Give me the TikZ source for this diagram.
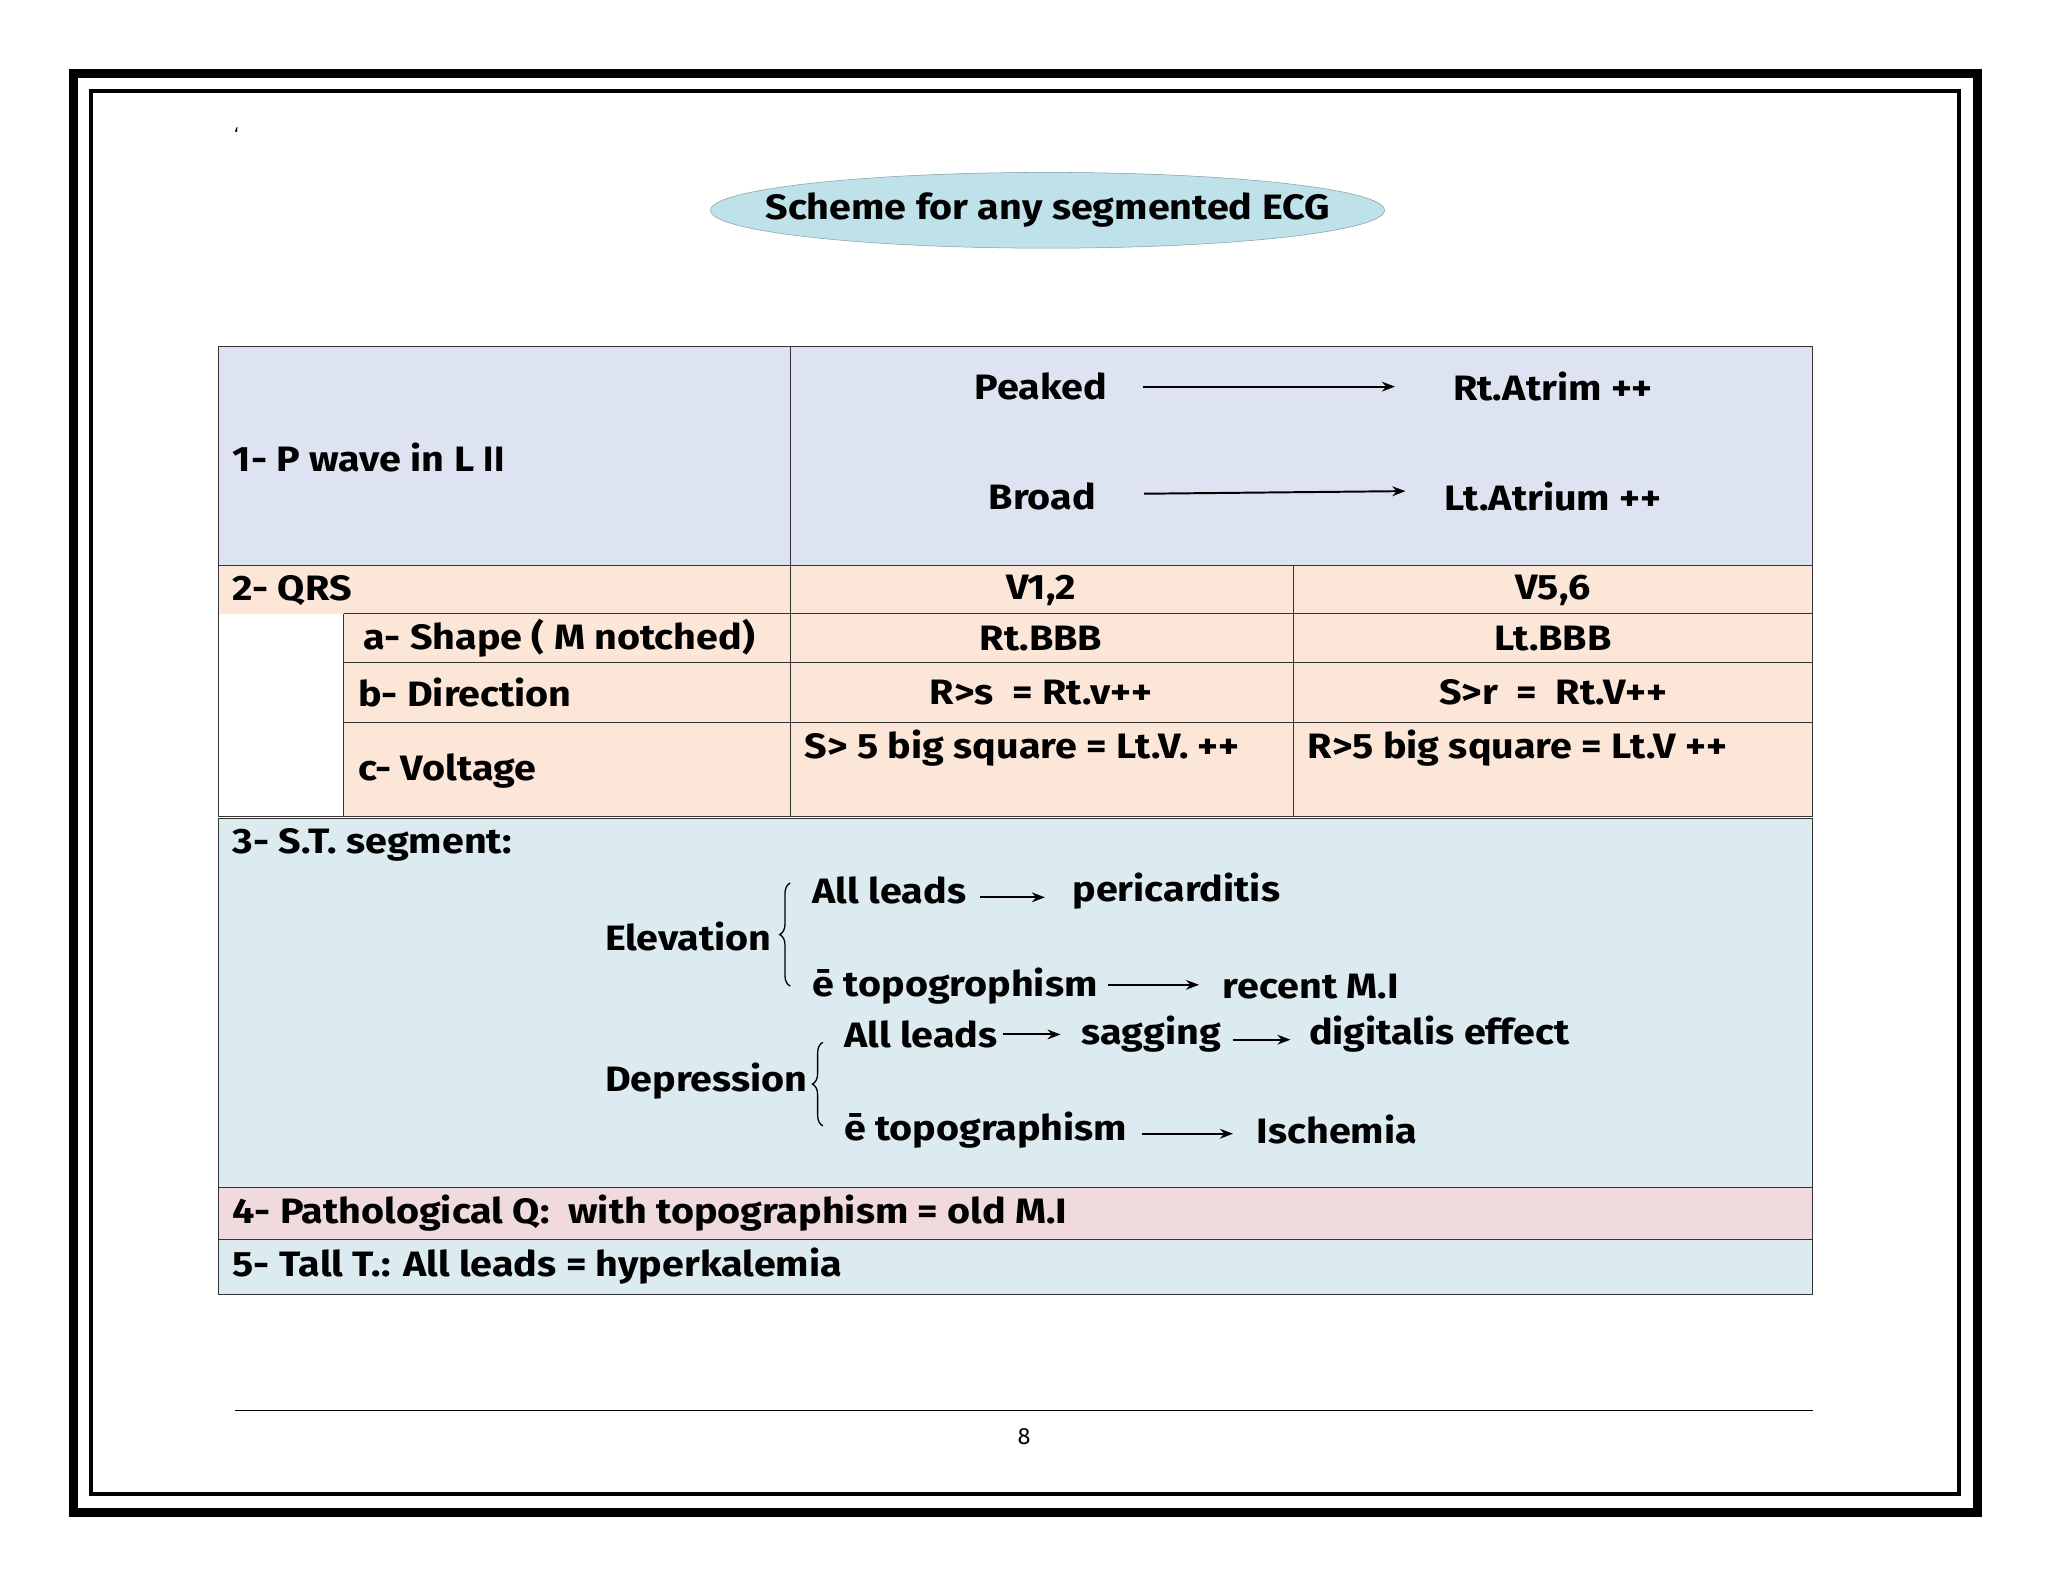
\documentclass[tikz,border=0pt]{standalone}
\usepackage{fontspec}
\setmainfont{Fira Sans}
\newfontfamily\wide[FakeStretch=1.12]{Fira Sans}
\usetikzlibrary{arrows.meta,decorations.pathreplacing,shapes.geometric}
\definecolor{pblue}{HTML}{DDE3F1}
\definecolor{peach}{HTML}{FCE6D8}
\definecolor{stblue}{HTML}{DCEBF0}
\definecolor{pink}{HTML}{F1DADE}
\definecolor{titlec}{HTML}{BFE1E9}
\tikzset{
 cell/.style={draw=black!80,line width=0.8pt},
 txt/.style={font=\wide\fontsize{27}{30}\selectfont\bfseries,inner sep=0pt},
 arr/.style={-{Stealth[length=10pt]},line width=1.5pt},
 brace/.style={decorate,decoration={brace,amplitude=8pt},line width=1pt}
}
\begin{document}
\begin{tikzpicture}[x=1pt,y=-1pt]
\useasboundingbox (0,0) rectangle (1568,1211);
\fill[white] (0,0) rectangle (1568,1211);
\draw[line width=7pt] (56,56) rectangle (1514,1158);
\draw[line width=3pt] (70,70) rectangle (1500,1144);
\node[inner sep=0pt,font=\fontsize{14}{14}\selectfont] (tick) at (181,103) {`};
% title
\draw[draw=titlec!70!black,fill=titlec] (802,161) ellipse [x radius=258pt,y radius=29pt];
\node[txt] (title) at (802,161) {Scheme for any segmented ECG};
% rows fills
\fill[pblue] (167,265) rectangle (1388,433);
\fill[peach] (167,433) rectangle (1388,625);
\fill[white] (167,470) rectangle (263,625);
\fill[stblue] (167,627) rectangle (1388,909);
\fill[pink] (167,909) rectangle (1388,949);
\fill[stblue] (167,949) rectangle (1388,991);
% grid
\draw[cell] (167,265) rectangle (1388,433);
\draw[cell] (605,265) -- (605,625);
\draw[cell] (167,433) rectangle (1388,625);
\draw[cell] (263,470) -- (263,625);
\draw[cell] (990,433) -- (990,625);
\draw[cell] (263,470) -- (1388,470);
\draw[cell] (263,507) -- (1388,507);
\draw[cell] (263,553) -- (1388,553);
\draw[cell] (167,627) rectangle (1388,909);
\draw[cell] (167,909) rectangle (1388,949);
\draw[cell] (167,949) rectangle (1388,991);
% row 1
\node[txt,anchor=west] (p1) at (178,350) {1- P wave in L \textrm{II}};
\node[txt] (peak) at (797,296) {Peaked};
\node[txt] (rta) at (1189,296) {Rt.Atrim ++};
\node[txt] (broad) at (798,380) {Broad};
\node[txt] (lta) at (1189,380) {Lt.Atrium ++};
\draw[arr] (875,296) coordinate (pa) -- (1068,296) coordinate (pb);
\draw[arr] (876,378) coordinate (ba) -- (1076,376) coordinate (bb);
% row 2
\node[txt,anchor=west] (qrs) at (178,452) {2- QRS};
\node[txt] (v12) at (797,452) {V1,2};
\node[txt] (v56) at (1189,452) {V5,6};
\node[txt,anchor=west] (sa) at (278,489) {a- Shape ( M notched)};
\node[txt] (rbbb) at (797,489) {Rt.BBB};
\node[txt] (lbbb) at (1189,489) {Lt.BBB};
\node[txt,anchor=west] (sb) at (274,530) {b- Direction};
\node[txt] (rs) at (797,530) {R>s \ = Rt.v++};
\node[txt] (sr) at (1189,530) {S>r \ = \ Rt.V++};
\node[txt,anchor=west] (sc) at (274,590) {c- Voltage};
\node[txt,anchor=west] (s5) at (616,573) {S> 5 big square = Lt.V. ++};
\node[txt,anchor=west] (r5) at (1001,573) {R>5 big square = Lt.V ++};
% row 3
\node[txt,anchor=west] (st) at (178,647) {3- S.T. segment:};
\node[txt,anchor=west] (elev) at (463,717) {Elevation};
\draw[brace] (605,755) -- (605,676);
\node[txt,anchor=west] (al1) at (622,682) {All leads};
\node[txt,anchor=west] (peri) at (821,682) {pericarditis};
\draw[arr] (750,687) -- (800,687);
\node[txt,anchor=west] (top1) at (622,755) {ē topogrophism};
\node[txt,anchor=west] (rmi) at (936,755) {recent M.I};
\draw[arr] (848,754) -- (918,754);
\node[txt,anchor=west] (dep) at (463,828) {Depression};
\draw[brace] (630,862) -- (630,798);
\node[txt,anchor=west] (al2) at (646,792) {All leads};
\node[txt,anchor=west] (sag) at (828,792) {sagging};
\node[txt,anchor=west] (dig) at (1002,792) {digitalis effect};
\draw[arr] (768,792) -- (812,792);
\draw[arr] (944,796) -- (988,796);
\node[txt,anchor=west] (top2) at (646,865) {ē topographism};
\node[txt,anchor=west] (isch) at (962,865) {Ischemia};
\draw[arr] (874,868) -- (944,868);
% rows 4,5
\node[txt,anchor=west] (pq) at (178,929) {4- Pathological Q: \ with topographism = old M.I};
\node[txt,anchor=west] (tt) at (178,969) {5- Tall T.: All leads = hyperkalemia};
% footer
\draw[line width=1pt] (180,1080) coordinate (fl) -- (1388,1080) coordinate (fr);
\node[inner sep=0pt,font=\fontsize{18}{18}\selectfont] (pg) at (784,1100) {8};
\end{tikzpicture}
\end{document}
